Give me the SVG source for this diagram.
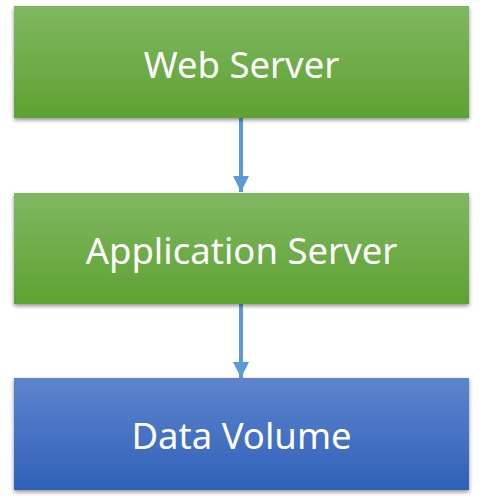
<svg xmlns="http://www.w3.org/2000/svg" width="483" height="501" viewBox="0 0 483 501">
<defs>
<linearGradient id="g" x1="0" y1="0" x2="0" y2="1"><stop offset="0" stop-color="#7fb862"/><stop offset="1" stop-color="#5fa232"/></linearGradient>
<linearGradient id="b" x1="0" y1="0" x2="0" y2="1"><stop offset="0" stop-color="#5e84cd"/><stop offset="1" stop-color="#2f61b9"/></linearGradient>
<filter id="sh" x="-5%" y="-10%" width="110%" height="125%"><feGaussianBlur in="SourceAlpha" stdDeviation="2"/><feOffset dy="2" result="o"/><feComponentTransfer><feFuncA type="linear" slope="0.45"/></feComponentTransfer><feMerge><feMergeNode/><feMergeNode in="SourceGraphic"/></feMerge></filter>
<marker id="ah" markerWidth="4" markerHeight="4" refX="4" refY="2" orient="auto" markerUnits="strokeWidth"><path d="M0,0 L4,2 L0,4 Z" fill="#5b9bd5"/></marker>
</defs>
<style>
text{font-family:"Noto Sans","Open Sans","DejaVu Sans",sans-serif;font-size:36.5px;fill:#fff;text-anchor:middle}
.c{stroke:#5b9bd5;stroke-width:4;fill:none}
</style>
<g id="connectors">
<path class="c" d="M241,118 V192" marker-end="url(#ah)"/>
<path class="c" d="M241,304 V378" marker-end="url(#ah)"/>
</g>
<g id="web-server"><rect x="14" y="6" width="455" height="112" fill="url(#g)" filter="url(#sh)"/><text x="241.5" y="78">Web Server</text></g>
<g id="application-server"><rect x="14" y="193" width="455" height="111" fill="url(#g)" filter="url(#sh)"/><text x="241.5" y="264">Application Server</text></g>
<g id="data-volume"><rect x="14" y="378" width="455" height="112" fill="url(#b)" filter="url(#sh)"/><text x="241.5" y="449">Data Volume</text></g>
</svg>
